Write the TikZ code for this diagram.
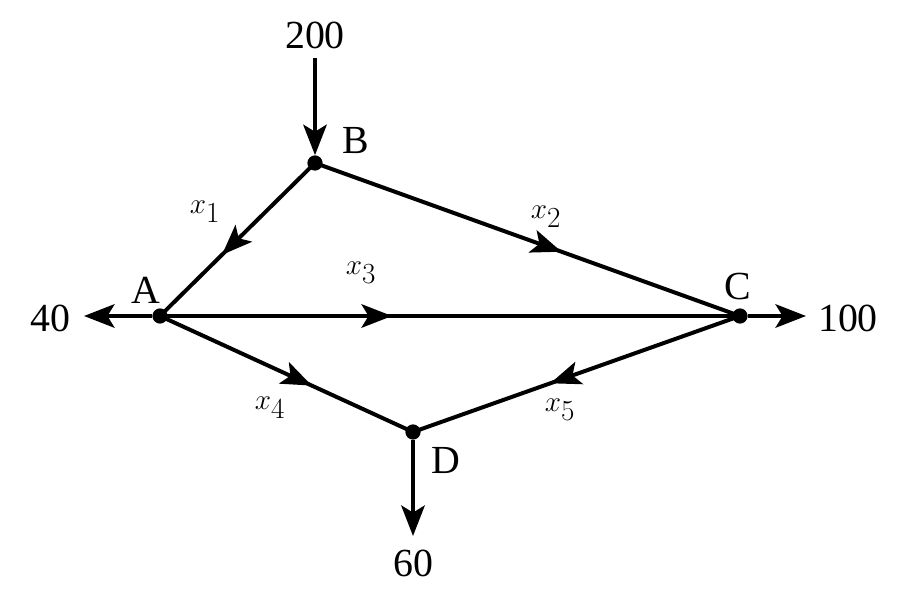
\documentclass[tikz,border=0pt]{standalone}
\usepackage{fontspec}
\setmainfont{Liberation Serif}
\usetikzlibrary{arrows.meta,decorations.markings}
\begin{document}
\begin{tikzpicture}[x=0.03cm,y=-0.03cm,
  edge/.style={line width=3.4pt},
  tip/.style={-{Stealth[length=26pt,width=20pt,inset=6pt]}},
  midarr/.style={postaction={decorate},decoration={markings,mark=at position #1 with {\arrow{Stealth[length=26pt,width=20pt,inset=6pt]}}}},
  dot/.style={circle,fill,inner sep=0pt,minimum size=13pt},
  lab/.style={font=\fontsize{34}{40}\selectfont,inner sep=0pt}]
\useasboundingbox (0,0) rectangle (904,593);
\node[dot] (B) at (315,163) {};
\node[dot] (A) at (160,316) {};
\node[dot] (C) at (740,316) {};
\node[dot] (D) at (413,432) {};
\coordinate (Bin) at (315,58);
\coordinate (Aout) at (84,316);
\coordinate (Cout) at (806,316);
\coordinate (Dout) at (413,536);
\draw[edge,tip] (Bin) -- (B);
\draw[edge,tip] (A) -- (Aout);
\draw[edge,tip] (C) -- (Cout);
\draw[edge,tip] (D) -- (Dout);
\draw[edge,midarr=0.6] (B.center) -- (A.center);
\draw[edge,midarr=0.58] (B.center) -- (C.center);
\draw[edge,midarr=0.4] (A.center) -- (C.center);
\draw[edge,midarr=0.6] (A.center) -- (D.center);
\draw[edge,midarr=0.58] (C.center) -- (D.center);
\node[lab] (l200) at (315,35) {200};
\node[lab] (l40) at (50,318) {40};
\node[lab] (l100) at (848,318) {100};
\node[lab] (l60) at (413,563) {60};
\node[lab] (nA) at (146,290) {A};
\node[lab] (nB) at (356,141) {B};
\node[lab] (nC) at (738,287) {C};
\node[lab] (nD) at (446,460) {D};
\node[lab] (x1) at (205,212) {$x_1$};
\node[lab] (x2) at (546,217) {$x_2$};
\node[lab] (x3) at (361,273) {$x_3$};
\node[lab] (x4) at (270,408) {$x_4$};
\node[lab] (x5) at (560,410) {$x_5$};
\end{tikzpicture}
\end{document}
